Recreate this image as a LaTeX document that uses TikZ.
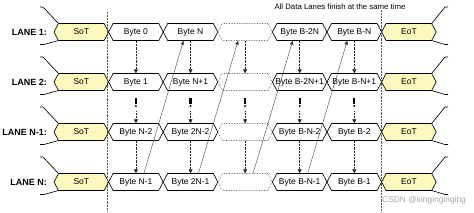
\documentclass[tikz,border=0pt]{standalone}
\usepackage{fontspec}
\setmainfont{Liberation Sans}
\usetikzlibrary{arrows.meta}
\definecolor{sotfill}{RGB}{252,248,190}
\newcommand\hexat[3]{%
  \path[#1] (#2-27.3,#3) -- (#2-22.8,#3-8.5) -- (#2+22.8,#3-8.5) -- (#2+27.3,#3)
    -- (#2+22.8,#3+8.5) -- (#2-22.8,#3+8.5) -- cycle;}
\newcommand\lanerow[7]{%
  \draw[wire] (40,#2-25) -- (43,#2-25) -- (58.5,#2-8.5);
  \draw[wire] (58.5,#2+8.5) -- (44,#2+12.5) -- (40,#2+12.5);
  \draw[wire] (431.7,#2-8.5) -- (445,#2-25) -- (448,#2-25);
  \draw[wire] (431.7,#2+8.5) -- (445,#2+12.5) -- (448,#2+12.5);
  \hexat{hexyel}{81.3}{#2}
  \hexat{hexline}{135.9}{#2}
  \hexat{hexline}{190.5}{#2}
  \hexat{hexdot}{245.1}{#2}
  \hexat{hexline}{299.7}{#2}
  \hexat{hexline}{354.3}{#2}
  \hexat{hexyel}{408.9}{#2}
  \node[lanelbl] (lab#1) at (47,#2) {#3};
  \node[cell] (r#1c0) at (81.3,#2) {SoT};
  \node[cell] (r#1c1) at (135.9,#2) {#4};
  \node[cell] (r#1c2) at (190.5,#2) {#5};
  \node[cell] (r#1c3) at (245.1,#2) {};
  \node[cell] (r#1c4) at (299.7,#2) {#6};
  \node[cell] (r#1c5) at (354.3,#2) {#7};
  \node[cell] (r#1c6) at (408.9,#2) {EoT};
}
\begin{document}
\begin{tikzpicture}[x=1pt,y=-1pt,
  cell/.style={minimum width=54.6pt,minimum height=17pt,inner sep=0pt,font=\fontsize{8.5}{9}\selectfont},
  lanelbl/.style={anchor=east,inner sep=0pt,font=\fontsize{9}{10}\selectfont\bfseries},
  hexline/.style={draw=black,line width=0.65pt,fill=white},
  hexyel/.style={draw=black,line width=0.65pt,fill=sotfill},
  hexdot/.style={draw=black!60,line width=0.65pt,densely dotted,fill=white},
  wire/.style={draw=black,line width=0.65pt},
  guide/.style={draw=black!65,line width=0.45pt,densely dotted},
  varrow/.style={draw=black!85,line width=0.45pt,densely dotted,-{Triangle[length=4pt,width=4pt]}},
  darrow/.style={draw=black!75,line width=0.4pt,-{Triangle[length=4pt,width=3.6pt]}},
  bang/.style={draw=black,line width=2.2pt},
]
\useasboundingbox (0,0) rectangle (474,212);

\lanerow{1}{32}{LANE 1:}{Byte 0}{Byte N}{Byte B-2N}{Byte B-N}
\lanerow{2}{82}{LANE 2:}{Byte 1}{Byte N+1}{Byte B-2N+1}{Byte B-N+1}
\lanerow{3}{132}{LANE N-1:}{Byte N-2}{Byte 2N-2}{Byte B-N-2}{Byte B-2}
\lanerow{4}{182}{LANE N:}{Byte N-1}{Byte 2N-1}{Byte B-N-1}{Byte B-1}

% guide lines
\coordinate (g1t) at (107.5,12);
\coordinate (g1b) at (107.5,212);
\coordinate (g2t) at (380.8,10);
\coordinate (g2b) at (380.8,212);
\draw[guide] (g1t) -- (g1b);
\draw[guide] (g2t) -- (g2b);

% vertical arrows
\foreach \k in {1,...,5} {
  \draw[varrow] (r1c\k.south) -- (r2c\k.north);
  \draw[varrow] (r3c\k.south) -- (r4c\k.north);
  \coordinate (s\k) at ([yshift=12pt]r3c\k.north);
  \draw[varrow] (s\k) -- (r3c\k.north);
  \draw[bang] ([yshift=25pt]r3c\k.north) -- ([yshift=19.7pt]r3c\k.north);
  \fill ([yshift=17.3pt]r3c\k.north) circle (1.1pt);
}

% diagonal arrows
\foreach \k/\n in {1/2,2/3,3/4,4/5}
  \draw[darrow] ([xshift=8pt]r4c\k.north) -- ([xshift=-7pt]r1c\n.south);

\node[font=\fontsize{7.8}{8}\selectfont,inner sep=0pt] (title) at (340,7) {All Data Lanes finish at the same time};
\node[anchor=west,inner sep=0pt,text=black!35,font=\fontsize{8.4}{9}\selectfont] (wm) at (382,200) {CSDN @kinginginging};
\end{tikzpicture}
\end{document}
